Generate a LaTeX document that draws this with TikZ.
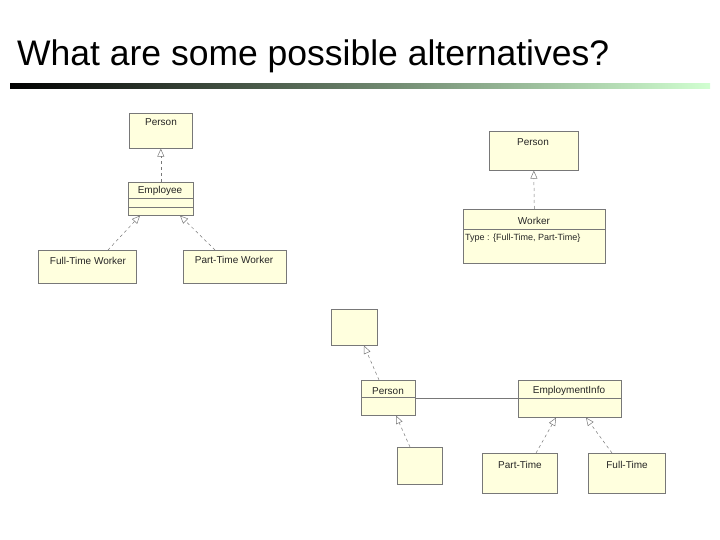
\documentclass[tikz,border=0pt]{standalone}
\usepackage{fontspec}
\setmainfont{Liberation Sans}
\usetikzlibrary{arrows.meta}
\definecolor{boxy}{RGB}{255,255,222}
\definecolor{edge}{RGB}{120,120,120}
\tikzset{
  cls/.style={rectangle, fill=boxy, draw=edge, line width=0.6pt, inner sep=0pt, anchor=north west},
  lbl/.style={font=\fontsize{10}{12}\selectfont, inner sep=0pt, text=black!85},
  gen/.style={dashed, draw=edge, line width=0.5pt, -{Triangle[open,length=8pt,width=7pt]}},
  sep/.style={draw=edge, line width=0.6pt}
}
\begin{document}
\begin{tikzpicture}[x=1pt,y=-1pt]
\useasboundingbox (0,0) rectangle (720,540);
\node[anchor=base west, inner sep=0pt, font=\fontsize{35.5}{40}\selectfont] (title) at (17,66) {What are some possible alternatives?};
\shade[left color=black, right color=green!18] (10,84) rectangle (710,89);
\coordinate (barl) at (10,84);
% left diagram
\node[cls, minimum width=63pt, minimum height=35pt] (p1) at (129,113) {};
\node[lbl] (p1t) at (161,122) {Person};
\node[cls, minimum width=65pt, minimum height=33pt] (e1) at (128,182) {};
\node[lbl] (e1t) at (160,191) {Employee};
\draw[sep] (128,198) -- (193,198) (128,207) -- (193,207);
\node[cls, minimum width=98pt, minimum height=33pt] (ft) at (38,250) {};
\node[lbl] (ftt) at (88,261) {Full-Time Worker};
\node[cls, minimum width=103pt, minimum height=33pt] (pt) at (183,250) {};
\node[lbl] (ptt) at (234,260) {Part-Time Worker};
\draw[gen] (e1.north) -- (p1.south);
\draw[gen] ([xshift=70pt]ft.north west) -- ([xshift=12pt]e1.south west);
\draw[gen] ([xshift=32pt]pt.north west) -- ([xshift=52pt]e1.south west);
% right top
\node[cls, minimum width=89pt, minimum height=39pt] (p2) at (489,131) {};
\node[lbl] (p2t) at (533,142) {Person};
\node[cls, minimum width=142pt, minimum height=54pt] (w) at (463,209) {};
\node[lbl] (wt) at (534,221) {Worker};
\draw[sep] (463,229) -- (605,229);
\node[lbl, anchor=west, font=\fontsize{9}{11}\selectfont] (wa) at (465,238) {Type : \{Full-Time, Part-Time\}};
\draw[gen] (w.north) -- (p2.south);
% bottom
\node[cls, minimum width=46pt, minimum height=36pt] (b0) at (331,309) {};
\node[cls, minimum width=54pt, minimum height=35pt] (p3) at (361,380) {};
\node[lbl] (p3t) at (388,391) {Person};
\draw[sep] (361,397) -- (415,397);
\node[cls, minimum width=103pt, minimum height=37pt] (ei) at (518,380) {};
\node[lbl] (eit) at (569,391) {EmploymentInfo};
\draw[sep] (518,398) -- (621,398);
\draw[sep] (p3.east) -- (ei.west |- p3.east);
\node[cls, minimum width=45pt, minimum height=37pt] (b1) at (397,447) {};
\node[cls, minimum width=75pt, minimum height=40pt] (pp) at (482,453) {};
\node[lbl] (ppt) at (520,465) {Part-Time};
\node[cls, minimum width=77pt, minimum height=40pt] (ff) at (588,453) {};
\node[lbl] (fft) at (627,465) {Full-Time};
\draw[gen] ([xshift=18pt]p3.north west) -- ([xshift=33pt]b0.south west);
\draw[gen] ([xshift=13pt]b1.north west) -- ([xshift=35pt]p3.south west);
\draw[gen] ([xshift=54pt]pp.north west) -- ([xshift=38pt]ei.south west);
\draw[gen] ([xshift=24pt]ff.north west) -- ([xshift=68pt]ei.south west);
\end{tikzpicture}
\end{document}
